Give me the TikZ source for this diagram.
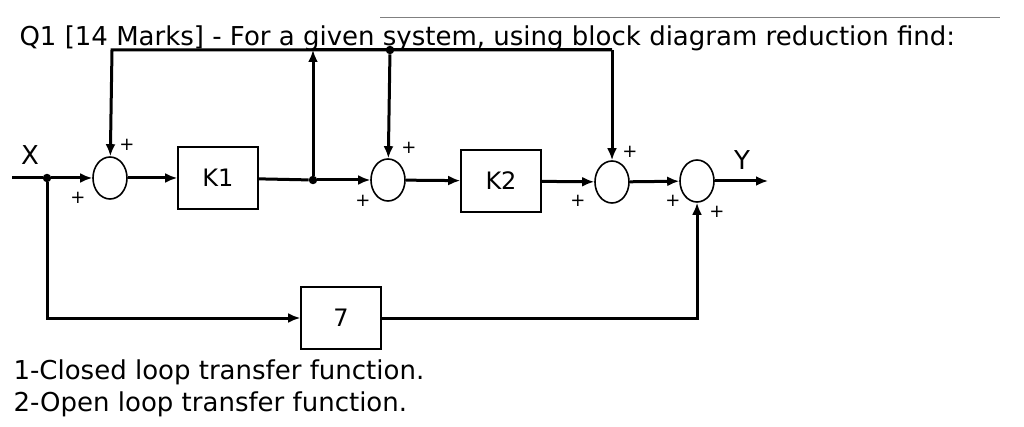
\documentclass[tikz,border=0pt]{standalone}
\usepackage{fontspec}
\setmainfont{DejaVu Sans}
\usetikzlibrary{shapes.geometric,arrows.meta}
\tikzset{
  sumnode/.style={draw, line width=1.6pt, ellipse, minimum width=34pt, minimum height=42pt, inner sep=0pt},
  gainbox/.style={draw, line width=1.6pt, minimum width=80pt, minimum height=62pt, font=\fontsize{24}{26}\selectfont},
  sig/.style={line width=3pt, -{Latex[length=12pt,width=10pt]}},
  wire/.style={line width=3pt},
  dot/.style={circle, fill, inner sep=3pt},
  pm/.style={font=\fontsize{18}{18}\selectfont},
  lbl/.style={font=\fontsize{26}{28}\selectfont}
}
\begin{document}
\begin{tikzpicture}[x=1pt, y=-1pt]
\useasboundingbox[fill=white] (0,0) rectangle (1024,427);
\draw[gray, line width=1pt] (380,18) -- (1000,18);
%title
\node[anchor=west, lbl] (title) at (16,38) {Q1 [14 Marks] - For a given system, using block diagram reduction find:};
%blocks
\node[sumnode] (S1) at (110,178) {};
\node[gainbox] (K1) at (218,178) {K1};
\node[sumnode] (S2) at (388,180) {};
\node[gainbox] (K2) at (501,181) {K2};
\node[sumnode] (S3) at (612,182) {};
\node[sumnode] (S4) at (697,181) {};
\node[gainbox] (G7) at (341,318) {7};
%points
\coordinate (xin) at (12,178);
\node[dot] (jx) at (47,178) {};
\node[dot] (j1) at (313,180) {};
\node[dot] (jt) at (390,50) {};
\coordinate (tl) at (112,50);
\coordinate (tm) at (313,50);
\coordinate (tr) at (612,50);
\coordinate (bl) at (47,318);
\coordinate (br) at (697,318);
\coordinate (yout) at (768,181);
%forward path
\draw[wire] (xin) -- (jx);
\draw[sig] (jx) -- (S1);
\draw[sig] (S1) -- (K1);
\draw[wire] (K1) -- (j1);
\draw[sig] (j1) -- (S2);
\draw[sig] (S2) -- (K2);
\draw[sig] (K2) -- (S3);
\draw[sig] (S3) -- (S4);
\draw[sig] (S4) -- (yout);
%top paths
\draw[sig] (j1) -- (tm);
\draw[sig] (tr) -- (tl) -- (S1);
\draw[wire] (tm) -- (tr);
\draw[sig] (tr) -- (S3);
\draw[sig] (jt) -- (S2);
%bottom path
\draw[sig] (jx) -- (bl) -- (G7);
\draw[sig] (G7) -- (br) -- (S4);
%labels
\node[lbl] (lx) at (30,155) {X};
\node[lbl] (ly) at (742,160) {Y};
\node[pm] (p1) at (127,145) {+};
\node[pm] (p2) at (78,198) {+};
\node[pm] (p3) at (409,148) {+};
\node[pm] (p4) at (363,201) {+};
\node[pm] (p5) at (630,152) {+};
\node[pm] (p6) at (578,201) {+};
\node[pm] (p7) at (673,201) {+};
\node[pm] (p8) at (717,212) {+};
%questions
\node[anchor=west, lbl] (q1) at (10,372) {1-Closed loop transfer function.};
\node[anchor=west, lbl] (q2) at (10,404) {2-Open loop transfer function.};
\end{tikzpicture}
\end{document}
